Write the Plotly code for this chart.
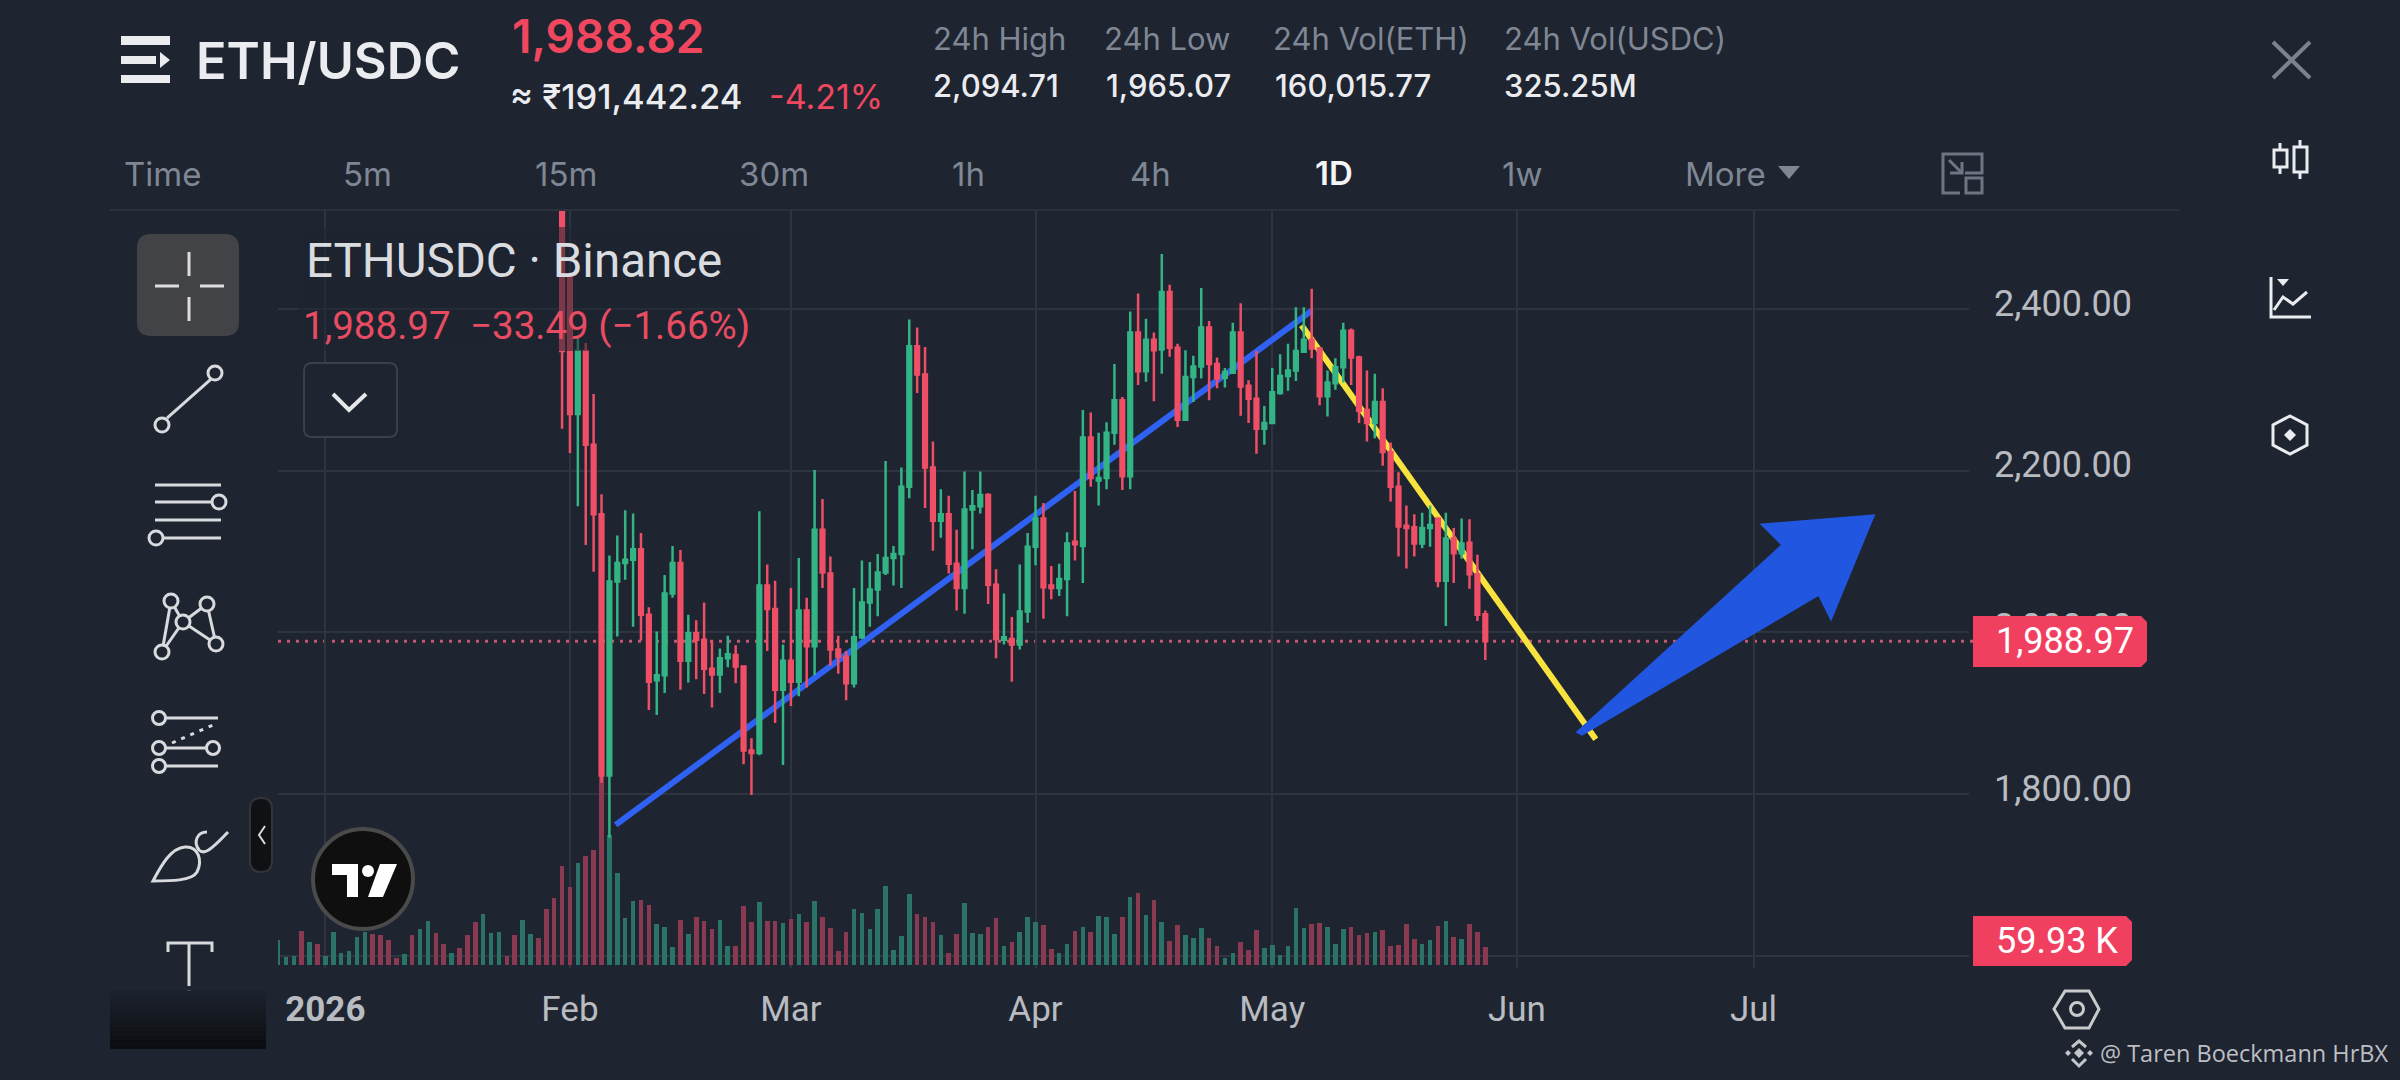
import pandas as pd
import plotly.graph_objects as go

W, H = 2400, 1080
BG = "#1e2430"
GRID = "#2f3540"
UP = "#33b484"
DOWN = "#ef4f66"
UP_VOL = "#2b7366"
DOWN_VOL = "#8a3a50"
RED_TEXT = "#f0475f"
MUTED = "#7f8794"

# daily bars, first volume bar is 26 Dec, first candle on screen 31 Jan
bar_dates = pd.date_range("2025-12-26", "2026-05-28", freq="D")
candle_dates = pd.date_range("2026-01-31", "2026-05-28", freq="D")

opens = [
    2560, 2439, 2270, 2348, 2232, 2146, 1823, 2063, 2086, 2090, 2103, 2022, 1941, 1947, 2048, 2086, 1965, 1999, 1991, 1955,
    1948, 1968, 1972, 1958, 1854, 1851, 2058, 2029, 1929, 1965, 1939, 2027, 1983, 2127, 2073, 1979, 1970, 1937, 1994, 2037,
    2053, 2074, 2092, 2097, 2180, 2354, 2319, 2204, 2138, 2146, 2085, 2055, 2152, 2156, 2170, 2059, 1991, 1992, 1985, 2026,
    2106, 2141, 2058, 2055, 2066, 2112, 2107, 2241, 2188, 2191, 2247, 2287, 2193, 2371, 2323, 2362, 2350, 2421, 2352, 2263,
    2316, 2329, 2377, 2332, 2315, 2321, 2371, 2305, 2289, 2252, 2259, 2296, 2317, 2324, 2347, 2362, 2351, 2292, 2308, 2328,
    2373, 2340, 2275, 2259, 2285, 2223, 2180, 2132, 2130, 2110, 2129, 2141, 2064, 2116, 2098, 2111, 2072, 2022.46,
]
highs = [
    2600, 2445, 2366, 2358, 2295, 2171, 2095, 2120, 2151, 2147, 2123, 2031, 2001, 2071, 2107, 2102, 2022, 2015, 2037, 1990,
    1980, 1996, 1984, 1958, 1869, 2150, 2084, 2064, 1985, 2055, 2092, 2043, 2201, 2165, 2094, 1996, 1977, 2055, 2089, 2087,
    2097, 2212, 2107, 2204, 2387, 2377, 2353, 2236, 2177, 2169, 2127, 2199, 2176, 2199, 2172, 2078, 2048, 2019, 2084, 2123,
    2169, 2160, 2082, 2085, 2124, 2175, 2275, 2272, 2247, 2260, 2332, 2291, 2397, 2419, 2388, 2371, 2468, 2430, 2357, 2349,
    2342, 2426, 2385, 2340, 2327, 2383, 2407, 2312, 2348, 2280, 2327, 2344, 2357, 2402, 2402, 2425, 2353, 2324, 2339, 2383,
    2376, 2342, 2324, 2320, 2302, 2235, 2198, 2157, 2146, 2148, 2157, 2141, 2148, 2129, 2141, 2140, 2096, 2027,
]
lows = [
    2252, 2222, 2156, 2108, 2075, 1814, 1746, 1995, 2065, 2007, 1990, 1904, 1898, 1925, 2043, 1929, 1938, 1942, 1924, 1907,
    1925, 1957, 1937, 1837, 1799, 1848, 1977, 1888, 1836, 1909, 1921, 1932, 1947, 2055, 1959, 1949, 1916, 1932, 1992, 2007,
    2020, 2071, 2058, 2055, 2166, 2296, 2154, 2101, 2117, 2073, 2027, 2023, 2103, 2147, 2035, 1968, 1985, 1939, 1979, 2012,
    2083, 2017, 2041, 2045, 2020, 2089, 2061, 2180, 2157, 2177, 2232, 2176, 2177, 2306, 2310, 2286, 2320, 2341, 2254, 2262,
    2285, 2314, 2287, 2302, 2303, 2320, 2268, 2259, 2221, 2232, 2258, 2294, 2299, 2311, 2347, 2339, 2281, 2267, 2300, 2309,
    2306, 2259, 2236, 2240, 2206, 2162, 2094, 2079, 2094, 2104, 2106, 2056, 2008, 2061, 2091, 2054, 2014, 1966,
]
closes = [
    2348, 2270, 2348, 2232, 2146, 1823, 2063, 2086, 2090, 2103, 2022, 1939, 1947, 2048, 2086, 1965, 1999, 1991, 1955, 1948,
    1968, 1973, 1958, 1854, 1851, 2058, 2029, 1929, 1965, 1939, 2027, 1983, 2127, 2074, 1979, 1970, 1937, 1994, 2037, 2053,
    2074, 2092, 2097, 2180, 2354, 2319, 2204, 2138, 2146, 2085, 2055, 2152, 2156, 2170, 2059, 1992, 1994, 1985, 2026, 2106,
    2141, 2056, 2055, 2066, 2110, 2109, 2241, 2191, 2191, 2247, 2287, 2193, 2371, 2323, 2362, 2349, 2421, 2352, 2263, 2316,
    2329, 2377, 2332, 2314, 2322, 2371, 2304, 2289, 2252, 2259, 2297, 2317, 2324, 2348, 2362, 2351, 2292, 2309, 2328, 2373,
    2340, 2274, 2259, 2285, 2223, 2180, 2131, 2129, 2110, 2129, 2133, 2064, 2116, 2098, 2110, 2072, 2022, 1988.97,
]

# volume in thousands of ETH, read against the 59.93 K label on the last bar
volumes = [
    85, 28, 31, 116, 78, 73, 31, 112, 40, 46, 94, 112, 105, 102, 85, 23, 36, 102, 122, 148,
    107, 71, 40, 58, 102, 146, 173, 107, 112, 32, 102, 153, 105, 90, 190, 227, 336, 266, 347, 370,
    390, 644, 441, 311, 160, 218, 220, 203, 139, 130, 60, 153, 105, 164, 149, 122, 153, 66, 64, 200,
    147, 215, 149, 149, 144, 156, 173, 146, 217, 164, 127, 47, 112, 190, 177, 122, 191, 269, 51, 98,
    241, 173, 164, 147, 102, 40, 105, 211, 110, 105, 130, 159, 64, 78, 112, 164, 147, 136, 54, 40,
    71, 115, 130, 112, 166, 164, 105, 164, 229, 245, 170, 220, 146, 82, 137, 102, 92, 125, 93, 66,
    24, 40, 78, 51, 119, 57, 67, 34, 64, 195, 124, 138, 144, 128, 71, 121, 128, 102, 107, 113,
    119, 64, 68, 139, 87, 73, 85, 132, 148, 94, 87, 139, 112, 59.93,
]
# colours of the bars whose candles sit above the visible price range
early_vol_up = [1, 1, 1, 0, 1, 0, 1, 1, 1, 1, 1, 1, 0, 0, 0, 0, 1, 0, 1, 1, 0, 0, 1, 0, 0, 0, 1, 1, 1, 0, 0, 1, 1, 0, 0, 0]

tick_dates = ["2026-01-01", "2026-02-01", "2026-03-01", "2026-04-01", "2026-05-01", "2026-06-01", "2026-07-01"]
tick_names = ["<b>2026</b>", "Feb", "Mar", "Apr", "May", "Jun", "Jul"]
price_ticks = [1600, 1800, 2000, 2200, 2400]
price_tick_names = ["", "1,800.00", "2,000.00", "2,200.00", "2,400.00"]

last_price = 1988.97

# the two hand drawn trend lines
blue_dates = ["2026-02-06 19:00", "2026-05-06 00:00"]
blue_prices = [1762, 2398]
yellow_dates = ["2026-05-04 17:00", "2026-06-11 00:00"]
yellow_prices = [2380, 1868]

vol_up = early_vol_up + [1 if c >= o else 0 for o, c in zip(opens, closes)]
vol_colors = [UP_VOL if u else DOWN_VOL for u in vol_up]

fig = go.Figure()
fig.add_trace(go.Bar(x=bar_dates, y=volumes, marker_color=vol_colors, marker_line_width=0,
                     width=50000000, yaxis="y", hoverinfo="skip"))
fig.add_trace(go.Scatter(x=blue_dates, y=blue_prices, mode="lines", yaxis="y2", hoverinfo="skip",
                         line=dict(color="#2f62f2", width=6)))
fig.add_trace(go.Scatter(x=yellow_dates, y=yellow_prices, mode="lines", yaxis="y2", hoverinfo="skip",
                         line=dict(color="#f7e23e", width=6)))
fig.add_trace(go.Candlestick(x=candle_dates, open=opens, high=highs, low=lows, close=closes, yaxis="y3",
                             whiskerwidth=0, hoverinfo="skip",
                             increasing=dict(line=dict(color=UP, width=2.5), fillcolor=UP),
                             decreasing=dict(line=dict(color=DOWN, width=2.5), fillcolor=DOWN)))


def X(px):
    return px / W


def Y(py):
    return 1 - py / H


def P(x, y):
    return f"{X(x):.5f} {Y(y):.5f}"


shapes = []
notes = []


def raw_path(d, color="#d8dade", width=3, fill=None):
    shapes.append(dict(type="path", xref="paper", yref="paper", path=d, fillcolor=fill or "rgba(0,0,0,0)",
                       line=dict(color=color, width=width)))


def poly(pts, color="#eaecef", width=3, fill=None, close=False):
    raw_path("M " + " L ".join(P(a, b) for a, b in pts) + (" Z" if close else ""), color, width, fill)


def box(x0, y0, x1, y1, fill, line=None, width=0):
    shapes.append(dict(type="rect", xref="paper", yref="paper", x0=X(x0), x1=X(x1), y0=Y(y0), y1=Y(y1),
                       fillcolor=fill, line=dict(color=line or fill, width=width)))


def round_box(x0, y0, x1, y1, r, fill, line=None, width=0):
    d = (f"M {P(x0 + r, y0)} L {P(x1 - r, y0)} Q {P(x1, y0)} {P(x1, y0 + r)} L {P(x1, y1 - r)} Q {P(x1, y1)} {P(x1 - r, y1)} "
         f"L {P(x0 + r, y1)} Q {P(x0, y1)} {P(x0, y1 - r)} L {P(x0, y0 + r)} Q {P(x0, y0)} {P(x0 + r, y0)} Z")
    raw_path(d, line or fill, width, fill)


def ring(cx, cy, r, color="#d8dade", width=3, fill=BG):
    shapes.append(dict(type="circle", xref="paper", yref="paper", x0=X(cx - r), x1=X(cx + r), y0=Y(cy + r), y1=Y(cy - r),
                       fillcolor=fill, line=dict(color=color, width=width)))


def text(x, y, s, size, color, family="Inter", weight=400, anchor="left"):
    notes.append(dict(xref="paper", yref="paper", x=X(x), y=Y(y), text=s, showarrow=False, xanchor=anchor,
                      yanchor="middle", font=dict(family=family, size=size, color=color, weight=weight)))


# dim the candles running behind the legend
box(298, 227, 760, 351, "rgba(30,36,48,0.55)")

# dotted last price line
shapes.append(dict(type="line", xref="paper", yref="y2", x0=X(278), x1=X(1973), y0=last_price, y1=last_price, layer="below",
                   line=dict(color="#c25770", width=3, dash="3px,6px")))

# arrow
poly([(1578, 732), (1783, 545), (1763, 525), (1873, 516), (1831, 618), (1819, 594), (1582, 734)],
     color="#2156e0", width=3, fill="#2156e0", close=True)

# header
box(121, 36, 170, 45, "#eaecef")
box(121, 56, 156, 64, "#eaecef")
poly([(160, 52), (170, 60), (160, 68)], fill="#eaecef", width=0, close=True)
box(121, 75, 170, 83, "#eaecef")
shapes.append(dict(type="line", xref="paper", yref="paper", x0=X(110), x1=X(2180), y0=Y(210), y1=Y(210),
                   line=dict(color="#2b313b", width=2)))
text(194, 61, "ETH/USDC", 50.5, "#eaecef", weight=600)
text(510, 36, "1,988.82", 46, RED_TEXT, weight=600)
text(508, 97, "≈ ₹191,442.24", 34.5, "#eaecef", weight=500)
text(767, 97, "-4.21%", 34, RED_TEXT)
for x, s in [(931, "24h High"), (1102, "24h Low"), (1271, "24h Vol(ETH)"), (1502, "24h Vol(USDC)")]:
    text(x, 38, s, 31, MUTED)
for x, s in [(931, "2,094.71"), (1104, "1,965.07"), (1273, "160,015.77"), (1502, "325.25M")]:
    text(x, 85, s, 31, "#eaecef", weight=500)
for x, s in [(122, "Time"), (341, "5m"), (533, "15m"), (737, "30m"), (950, "1h"), (1128, "4h"), (1500, "1w"), (1683, "More")]:
    text(x, 174, s, 33, MUTED)
text(1313, 173, "1D", 33, "#f4f5f6", weight=600)
poly([(1778, 166), (1800, 166), (1789, 179)], color=MUTED, width=0, fill=MUTED, close=True)

# expand icon
poly([(1965, 173), (1982, 173), (1982, 154), (1943, 154), (1943, 193), (1960, 193)], color="#6f7683")
box(1966, 178, 1982, 193, "rgba(0,0,0,0)", "#6f7683", 3)
poly([(1949, 160), (1962, 173)], color="#6f7683")
poly([(1950, 173), (1962, 173), (1962, 162)], color="#6f7683")

# right hand tools
poly([(2273, 42), (2310, 78)], color="#7b828e", width=4)
poly([(2310, 42), (2273, 78)], color="#7b828e", width=4)
box(2274, 150, 2287, 167, "rgba(0,0,0,0)", "#eaecef", 3)
poly([(2280, 143), (2280, 150)])
poly([(2280, 167), (2280, 174)])
box(2294, 147, 2307, 172, "rgba(0,0,0,0)", "#eaecef", 3)
poly([(2300, 140), (2300, 147)])
poly([(2300, 172), (2300, 179)])
poly([(2271, 277), (2271, 317), (2311, 317)])
poly([(2277, 279), (2289, 279), (2283, 286)], fill="#eaecef", width=0, close=True)
poly([(2274, 310), (2283, 297), (2293, 304), (2307, 292)])
poly([(2290, 416), (2307, 425), (2307, 445), (2290, 454), (2273, 445), (2273, 425)], close=True)
poly([(2290, 429), (2296, 435), (2290, 441), (2284, 435)], fill="#eaecef", width=0, close=True)

# left hand tools
round_box(137, 234, 239, 336, 14, "#424346")
poly([(189, 252), (189, 276)], color="#dddddd")
poly([(189, 297), (189, 321)], color="#dddddd")
poly([(155, 286), (179, 286)], color="#dddddd")
poly([(200, 286), (224, 286)], color="#dddddd")

poly([(167, 418), (211, 379)], color="#d8dade")
ring(215, 373, 7)
ring(162, 425, 7)

poly([(155, 485), (221, 485)], color="#d8dade")
poly([(155, 502), (212, 502)], color="#d8dade")
poly([(155, 520), (221, 520)], color="#d8dade")
poly([(163, 538), (221, 538)], color="#d8dade")
ring(219, 502, 7)
ring(156, 538, 7)

for a, b in [((171, 601), (162, 652)), ((171, 601), (183, 622)), ((183, 622), (162, 652)),
             ((183, 622), (207, 604)), ((183, 622), (216, 644)), ((207, 604), (216, 644))]:
    poly([a, b], color="#d8dade")
for cx, cy in [(171, 601), (207, 604), (183, 622), (162, 652), (216, 644)]:
    ring(cx, cy, 7)

poly([(165, 718), (218, 718)], color="#d8dade")
shapes.append(dict(type="line", xref="paper", yref="paper", x0=X(172), x1=X(213), y0=Y(743), y1=Y(725),
                   line=dict(color="#d8dade", width=3, dash="4px,6px")))
poly([(165, 748), (207, 748)], color="#d8dade")
poly([(165, 766), (218, 766)], color="#d8dade")
for cx, cy in [(159, 718), (159, 748), (213, 748), (159, 766)]:
    ring(cx, cy, 6.5)

raw_path(f"M {P(153, 881)} C {P(160, 868)} {P(170, 848)} {P(185, 847)} C {P(198, 846)} {P(203, 860)} {P(197, 872)} "
         f"C {P(192, 881)} {P(170, 881)} {P(153, 881)} Z")
raw_path(f"M {P(207, 832)} C {P(197, 832)} {P(193, 842)} {P(199, 850)} C {P(204, 855)} {P(210, 851)} {P(228, 832)}")

poly([(168, 952), (168, 943), (212, 943), (212, 952)], color="#d8dade")
poly([(189, 943), (189, 994)], color="#d8dade")
poly([(182, 994), (197, 994)], color="#d8dade")

# dark strip under the T tool
strip_steps = 14
for i in range(strip_steps):
    t = i / (strip_steps - 1)
    shade = f"rgb({int(30 - 18 * t)},{int(36 - 23 * t)},{int(48 - 32 * t)})"
    box(110, 986 + i * 4.5, 266, 986 + (i + 1) * 4.5, shade)

# collapse pill
round_box(250, 798, 272, 872, 11, "#101114", "#333538", 2)
poly([(265, 826), (259, 835), (265, 844)], color="#d8dade", width=2)

# legend
text(304, 261, "ETHUSDC · Binance", 47.5, "#dadce0", family="Roboto")
text(301, 325, "1,988.97", 38.5, "#e84c62", family="Roboto")
text(468, 325, "−33.49 (−1.66%)", 38.5, "#e84c62", family="Roboto")
round_box(304, 363, 397, 437, 8, BG, "#3a3f48", 2)
poly([(333, 394), (349, 410), (366, 394)], color="#e6e7e9", width=4)

# tradingview badge
ring(363, 879, 50, color="#4a4a4a", width=4, fill="#0f0f10")
poly([(332, 864), (358, 864), (358, 897), (347, 897), (347, 875), (332, 875)], color="#ffffff", width=0, fill="#ffffff", close=True)
ring(368, 871, 6, color="#ffffff", width=0, fill="#ffffff")
poly([(380, 864), (397, 864), (383, 897), (368, 897)], color="#ffffff", width=0, fill="#ffffff", close=True)

# price tags
poly([(1973, 616), (2141, 616), (2147, 622), (2147, 661), (2141, 667), (1973, 667)], color="#f1405f", width=0, fill="#f1405f", close=True)
poly([(1973, 916), (2126, 916), (2132, 922), (2132, 960), (2126, 966), (1973, 966)], color="#f1405f", width=0, fill="#f1405f", close=True)
text(1994, 641, "1,988.97", 36, "#ffffff", family="Roboto")
text(1994, 941, "59.93 K", 36, "#ffffff", family="Roboto")

# settings hexagon, watermark
poly([(2054, 1009), (2065, 991), (2089, 991), (2099, 1009), (2089, 1028), (2065, 1028)], color="#c8cacc", close=True)
ring(2077, 1009, 6.5, color="#c8cacc")
for cx, cy, r in [(2079, 1053, 5), (2068, 1053, 3), (2090, 1053, 3)]:
    poly([(cx, cy - r), (cx + r, cy), (cx, cy + r), (cx - r, cy)], color="#c4c6c9", width=0, fill="#c4c6c9", close=True)
poly([(2072, 1047), (2079, 1041), (2086, 1047)], color="#c4c6c9", width=3)
poly([(2072, 1059), (2079, 1066), (2086, 1059)], color="#c4c6c9", width=3)
text(2098, 1053, "@ Taren Boeckmann HrBX", 23.5, "#bcbfc3", family="Open Sans")

fig.update_layout(
    width=W, height=H, autosize=False, margin=dict(l=0, r=0, t=0, b=0), showlegend=False,
    paper_bgcolor=BG, plot_bgcolor=BG, hovermode=False, boxgap=0.33, bargap=0,
    font=dict(family="Roboto", color="#b8bbc0"),
    shapes=shapes, annotations=notes,
    xaxis=dict(domain=[X(278), X(1969)], range=["2025-12-26 00:00", "2026-07-28 07:12"], type="date", automargin=False,
               rangeslider=dict(visible=False), tickmode="array", tickvals=tick_dates, ticktext=tick_names,
               tickfont=dict(family="Roboto", size=35, color="#b8bbc0"), showgrid=True, gridcolor=GRID, gridwidth=2,
               zeroline=False, showline=False, ticks="", ticklabelstandoff=17),
    # volume pane sits under everything else, base at y=965px
    yaxis=dict(domain=[Y(968), Y(210)], range=[-10, 2559], visible=False, showgrid=False, zeroline=False, automargin=False),
    yaxis2=dict(overlaying="y", side="right", range=[1585, 2522.4], tickmode="array", tickvals=price_ticks, automargin=False,
                ticktext=price_tick_names, tickfont=dict(family="Roboto", size=36, color="#b8bbc0"),
                showgrid=True, gridcolor=GRID, gridwidth=2, zeroline=False, showline=False, ticks="",
                ticklabelstandoff=24, ticklabelshift=-6),
    yaxis3=dict(overlaying="y", side="right", range=[1585, 2522.4], visible=False, showgrid=False, zeroline=False, automargin=False),
)

fig.write_html("out.html", config=dict(displayModeBar=False),
               post_script="document.body.style.margin='0';document.body.style.background='%s';document.body.style.overflow='hidden';" % BG)
